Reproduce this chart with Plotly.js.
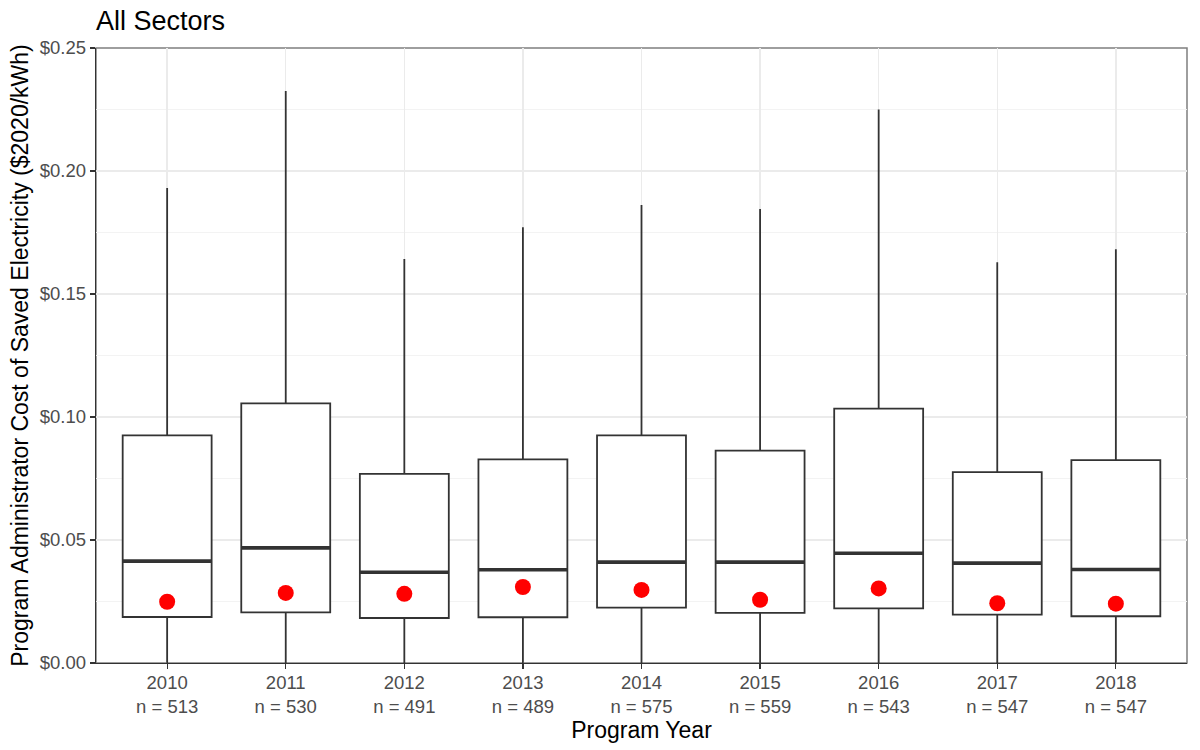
<!DOCTYPE html>
<html>
<head>
<meta charset="utf-8">
<script src="https://cdn.plot.ly/plotly-3.0.1.min.js"></script>
<style>
  html, body { margin: 0; padding: 0; background: #fff; }
  #chart { width: 1200px; height: 750px; }
</style>
</head>
<body>
<div id="chart"></div>
<script>
// program years and number of programs per year
var years = [2010, 2011, 2012, 2013, 2014, 2015, 2016, 2017, 2018];
var counts = [513, 530, 491, 489, 575, 559, 543, 547, 547];

// box stats, $2020/kWh
var lowerWhisker = [0, 0, 0, 0, 0, 0, 0, 0, 0];
var q1 = [0.0187, 0.0206, 0.0183, 0.0186, 0.0225, 0.0204, 0.0222, 0.0197, 0.0190];
var median = [0.0414, 0.0468, 0.0369, 0.0379, 0.0410, 0.0410, 0.0446, 0.0406, 0.0380];
var q3 = [0.0925, 0.1055, 0.0769, 0.0828, 0.0925, 0.0863, 0.1034, 0.0776, 0.0825];
var upperWhisker = [0.1931, 0.2325, 0.1642, 0.1771, 0.1862, 0.1846, 0.2250, 0.1629, 0.1682];

// red dots (savings-weighted average)
var weightedAvg = [0.0249, 0.0285, 0.0281, 0.0309, 0.0297, 0.0257, 0.0303, 0.0243, 0.0241];

var tickText = years.map(function(y, i) { return y + '<br>n = ' + counts[i]; });
var boxWidth = 0.75;
var dark = '#333333';

var data = [
	{
		type: 'box',
		x: years,
		q1: q1,
		median: median,
		q3: q3,
		lowerfence: lowerWhisker,
		upperfence: upperWhisker,
		width: boxWidth,
		whiskerwidth: 0,
		boxpoints: false,
		fillcolor: 'white',
		line: {color: dark, width: 1.8},
		hoverinfo: 'skip',
		showlegend: false
	}
];

// thicker median bars, ggplot style
years.forEach(function(y, i) {
	data.push({
		type: 'scatter',
		mode: 'lines',
		x: [y - boxWidth / 2, y + boxWidth / 2],
		y: [median[i], median[i]],
		line: {color: dark, width: 3.6},
		hoverinfo: 'skip',
		showlegend: false
	});
});

data.push({
	type: 'scatter',
	mode: 'markers',
	x: years,
	y: weightedAvg,
	marker: {color: '#FF0000', size: 16},
	showlegend: false
});

var layout = {
	width: 1200,
	height: 750,
	paper_bgcolor: 'white',
	plot_bgcolor: 'white',
	font: {family: 'Liberation Sans, Arial, sans-serif', color: '#4D4D4D'},
	title: {
		text: 'All Sectors',
		font: {family: 'Liberation Sans, Arial, sans-serif', size: 27, color: 'black'},
		x: 96 / 1200, xref: 'container', xanchor: 'left',
		y: 1 - 21 / 750, yref: 'container', yanchor: 'middle'
	},
	margin: {l: 96, r: 13, t: 48, b: 87},
	xaxis: {
		range: [2009.4, 2018.6],
		tickvals: years,
		ticktext: tickText,
		tickfont: {size: 18.5, color: '#4D4D4D'},
		ticks: 'outside', ticklen: 5, tickcolor: dark, tickwidth: 1.3,
		ticklabelstandoff: -3,
		showgrid: true, gridcolor: '#EBEBEB', gridwidth: 1.4,
		zeroline: false,
		showline: true, linecolor: dark, linewidth: 1.3,
		title: {text: 'Program Year', font: {size: 23, color: 'black'}, standoff: 0},
		fixedrange: true
	},
	yaxis: {
		range: [0, 0.25],
		dtick: 0.05,
		tickformat: '$.2f',
		tickfont: {size: 18.5, color: '#4D4D4D'},
		ticks: 'outside', ticklen: 5, tickcolor: dark, tickwidth: 1.3,
		showgrid: true, gridcolor: '#EBEBEB', gridwidth: 1.4,
		minor: {dtick: 0.025, showgrid: true, gridcolor: '#F2F2F2', gridwidth: 0.9},
		zeroline: false,
		showline: true, linecolor: dark, linewidth: 1.3,
		title: {text: 'Program Administrator Cost of Saved Electricity ($2020/kWh)', font: {size: 23, color: 'black'}, standoff: 4},
		fixedrange: true
	},
	shapes: [
		{type: 'rect', xref: 'paper', yref: 'paper', x0: 0, x1: 1, y0: 0, y1: 1,
		 line: {color: '#7F7F7F', width: 1.5}, layer: 'below'}
	]
};

Plotly.newPlot('chart', data, layout, {displayModeBar: false, staticPlot: true});
</script>
</body>
</html>
